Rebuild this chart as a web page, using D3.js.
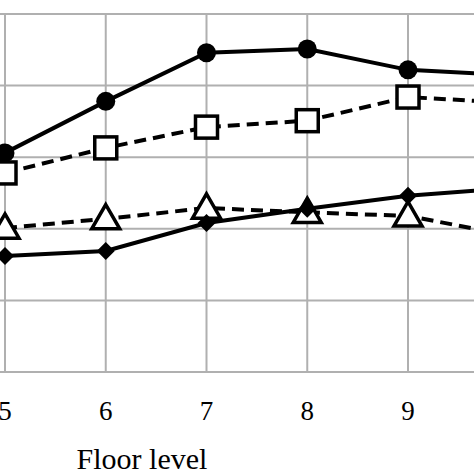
<!DOCTYPE html>
<html><head><meta charset="utf-8">
<script src="https://cdn.jsdelivr.net/npm/d3@7"></script>
<style>body{margin:0;background:#fff}</style>
</head><body><svg></svg>
<script>
const floors = [5, 6, 7, 8, 9, 10];
const floorLabels = [5, 6, 7, 8, 9];
const circleVals = [3.06, 3.78, 4.46, 4.51, 4.22, 4.15];
const squareVals = [2.78, 3.13, 3.42, 3.51, 3.84, 3.76];
const triangleVals = [2.01, 2.14, 2.29, 2.23, 2.18, 1.91];
const diamondVals = [1.62, 1.69, 2.08, 2.28, 2.46, 2.57];
const yTicks = [0, 1, 2, 3, 4, 5];

const W = 474, H = 474;
const svg = d3.select("svg").attr("width", W).attr("height", H);
const x = d3.scaleLinear().domain([5, 9]).range([5, 408]);
const y = d3.scaleLinear().domain([0, 5]).range([372, 14]);

// grid
svg.selectAll("line.h").data(yTicks).enter().append("line")
	.attr("x1", 0).attr("x2", W).attr("y1", d => y(d)).attr("y2", d => y(d))
	.attr("stroke", "#b0b0b0").attr("stroke-width", 2);
svg.selectAll("line.v").data(floors).enter().append("line")
	.attr("x1", d => x(d)).attr("x2", d => x(d)).attr("y1", y(5)).attr("y2", y(0))
	.attr("stroke", "#b0b0b0").attr("stroke-width", 2);

// tick labels
svg.selectAll("text.t").data(floorLabels).enter().append("text")
	.attr("x", d => x(d)).attr("y", 420).attr("text-anchor", "middle")
	.style("font-family", "Liberation Serif").style("font-size", "27px").text(d => d);
svg.append("text").attr("x", 142).attr("y", 469).attr("text-anchor", "middle")
	.style("font-family", "Liberation Serif").style("font-size", "30px").text("Floor level");

const line = d3.line().x((d, i) => x(floors[i])).y(d => y(d));
function series(vals, dash, marker) {
	svg.append("path").datum(vals).attr("d", line).attr("fill", "none")
		.attr("stroke", "#000").attr("stroke-width", 4)
		.attr("stroke-dasharray", dash ? "12,7" : null);
	const g = svg.append("g");
	vals.forEach((v, i) => {
		const cx = x(floors[i]), cy = y(v);
		if (marker == "circle") {
			g.append("circle").attr("cx", cx).attr("cy", cy).attr("r", 9.5).attr("fill", "#000");
		} else if (marker == "square") {
			g.append("rect").attr("x", cx - 11).attr("y", cy - 11).attr("width", 22).attr("height", 22)
				.attr("fill", "#fff").attr("stroke", "#000").attr("stroke-width", 3.5);
		} else if (marker == "triangle") {
			g.append("path").attr("d", d3.symbol(d3.symbolTriangle, 340)())
				.attr("transform", "translate(" + cx + "," + (cy + 2) + ")")
				.attr("fill", "#fff").attr("stroke", "#000").attr("stroke-width", 3.5);
		} else {
			g.append("path").attr("d", "M0,-9L9,0L0,9L-9,0Z")
				.attr("transform", "translate(" + cx + "," + cy + ")").attr("fill", "#000");
		}
	});
}
series(triangleVals, true, "triangle");
series(diamondVals, false, "diamond");
series(squareVals, true, "square");
series(circleVals, false, "circle");
</script></body></html>
